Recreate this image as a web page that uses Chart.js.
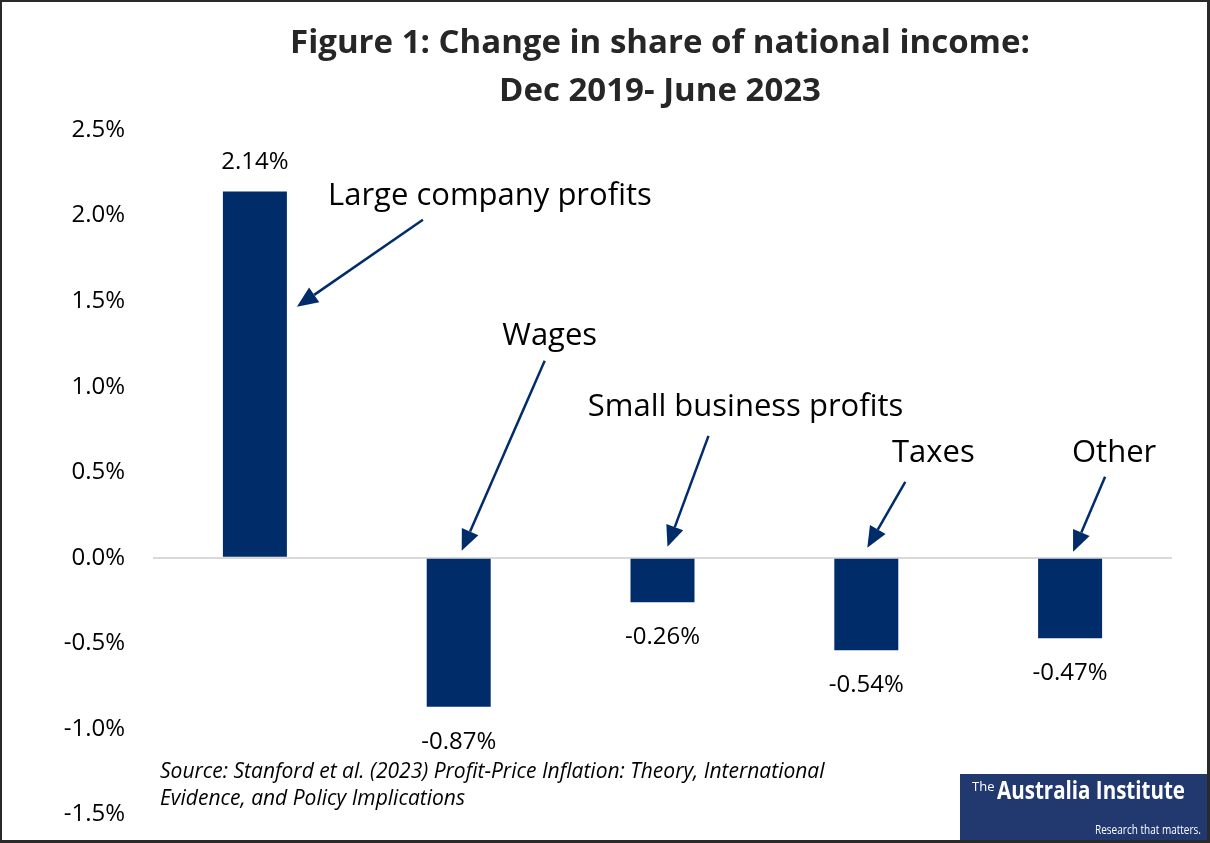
<!DOCTYPE html>
<html>
<head>
<meta charset="utf-8">
<script src="https://cdn.jsdelivr.net/npm/chart.js@4"></script>
<style>
  html, body { margin: 0; padding: 0; background: #fff; }
  #wrap { width: 1210px; height: 843px; position: relative; }
</style>
</head>
<body>
<div id="wrap"><canvas id="myChart" width="1210" height="843"></canvas></div>
<script>
const categories = ['Large company profits', 'Wages', 'Small business profits', 'Taxes', 'Other'];
const shareChange = [2.14, -0.87, -0.26, -0.54, -0.47];
const yTicks = [-1.5, -1.0, -0.5, 0.0, 0.5, 1.0, 1.5, 2.0, 2.5];

const titleLines = ['Figure 1: Change in share of national income:', 'Dec 2019- June 2023'];
const sourceLines = [
  'Source: Stanford et al. (2023) Profit-Price Inflation: Theory, International',
  'Evidence, and Policy Implications'
];

const barColor = '#002d69';
const FONT = '"Open Sans", Lato, sans-serif';

// label / arrow placement, offsets from the bar centre and the zero line
const callouts = [
  { lx: 235, ly: -353, sx: 168, sy: -338, tx: 42, ty: -251 },
  { lx: 91,  ly: -213, sx: 86,  sy: -197, tx: 3,  ty: -7 },
  { lx: 83,  ly: -142, sx: 46,  sy: -122, tx: 5,  ty: -11 },
  { lx: 67,  ly: -96,  sx: 39,  sy: -76,  tx: 1,  ty: -10 },
  { lx: 44,  ly: -96,  sx: 35,  sy: -81,  tx: 3,  ty: -6 }
];

function drawArrow(ctx, x1, y1, x2, y2) {
  const ang = Math.atan2(y2 - y1, x2 - x1);
  const len = 21, half = 9;
  const bx = x2 - len * Math.cos(ang), by = y2 - len * Math.sin(ang);
  ctx.strokeStyle = barColor;
  ctx.lineWidth = 2.5;
  ctx.beginPath();
  ctx.moveTo(x1, y1);
  ctx.lineTo(bx, by);
  ctx.stroke();
  ctx.fillStyle = barColor;
  ctx.beginPath();
  ctx.moveTo(x2, y2);
  ctx.lineTo(bx + half * Math.sin(ang), by - half * Math.cos(ang));
  ctx.lineTo(bx - half * Math.sin(ang), by + half * Math.cos(ang));
  ctx.closePath();
  ctx.fill();
}

const extras = {
  id: 'extras',
  afterDraw(chart) {
    const ctx = chart.ctx;
    const meta = chart.getDatasetMeta(0);
    const y0 = chart.scales.y.getPixelForValue(0);
    ctx.save();

    // title
    ctx.fillStyle = '#262626';
    ctx.textAlign = 'center';
    ctx.textBaseline = 'alphabetic';
    ctx.font = 'bold 33px ' + FONT;
    ctx.fillText(titleLines[0], 660, 53);
    ctx.fillText(titleLines[1], 660, 101);

    // value labels
    ctx.fillStyle = '#000';
    ctx.font = '24px ' + FONT;
    meta.data.forEach((bar, i) => {
      const v = shareChange[i];
      const y = v >= 0 ? bar.y - 23 : bar.y + 42;
      ctx.fillText(v.toFixed(2) + '%', bar.x, y);
    });

    // callouts
    ctx.font = '31px ' + FONT;
    meta.data.forEach((bar, i) => {
      const c = callouts[i];
      ctx.fillStyle = '#000';
      ctx.textAlign = 'center';
      ctx.fillText(categories[i], bar.x + c.lx, y0 + c.ly);
      drawArrow(ctx, bar.x + c.sx, y0 + c.sy, bar.x + c.tx, y0 + c.ty);
    });

    // source
    ctx.fillStyle = '#000';
    ctx.textAlign = 'left';
    ctx.font = 'italic 21px ' + FONT;
    ctx.fillText(sourceLines[0], 160, 778, 672);
    ctx.fillText(sourceLines[1], 160, 805);

    // logo
    ctx.fillStyle = '#22396f';
    ctx.fillRect(960, 774, 250, 69);
    ctx.fillStyle = '#fff';
    ctx.font = '13px ' + FONT;
    ctx.fillText('The', 972, 791, 24);
    ctx.font = 'bold 25px ' + FONT;
    ctx.fillText('Australia Institute', 997, 799, 188);
    ctx.textAlign = 'right';
    ctx.font = '13px ' + FONT;
    ctx.fillText('Research that matters.', 1201, 834, 106);

    // frame
    ctx.fillStyle = '#2a2a2a';
    ctx.fillRect(0, 0, 1210, 2);
    ctx.fillRect(0, 0, 2, 843);
    ctx.fillRect(1207, 0, 3, 843);
    ctx.fillRect(0, 840, 1210, 3);
    ctx.restore();
  }
};

new Chart(document.getElementById('myChart'), {
  type: 'bar',
  data: {
    labels: categories,
    datasets: [{
      data: shareChange,
      backgroundColor: barColor,
      borderWidth: 0,
      categoryPercentage: 1,
      barPercentage: 0.314
    }]
  },
  options: {
    responsive: false,
    animation: false,
    layout: { padding: { top: 130, bottom: 28.5, right: 38, left: 0 } },
    plugins: { legend: { display: false }, tooltip: { enabled: false } },
    scales: {
      x: { display: false },
      y: {
        min: -1.5,
        max: 2.5,
        afterFit: (scale) => {
          scale.width = 153;
          scale.paddingTop = 0;
          scale.paddingBottom = 0;
        },
        afterBuildTicks: (scale) => { scale.ticks = yTicks.map(v => ({ value: v })); },
        border: { display: false },
        grid: {
          drawTicks: false,
          lineWidth: 2,
          color: (c) => (c.tick && c.tick.value === 0 ? '#d9d9d9' : 'rgba(0,0,0,0)')
        },
        ticks: {
          padding: 28,
          color: '#000',
          font: { family: 'Open Sans', size: 24 },
          callback: (v) => v.toFixed(1) + '%'
        }
      }
    }
  },
  plugins: [extras]
});
</script>
</body>
</html>
